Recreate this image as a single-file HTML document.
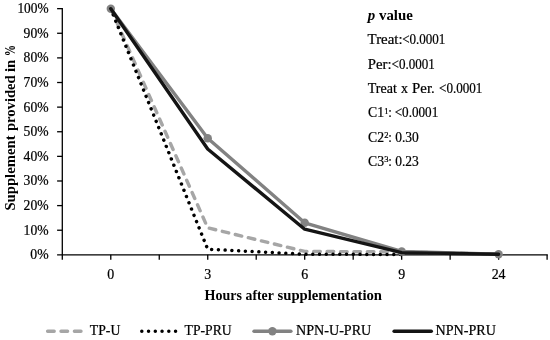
<!DOCTYPE html>
<html><head><meta charset="utf-8"><title>Chart</title>
<style>
html,body{margin:0;padding:0;background:#fff;}
body{width:550px;height:340px;overflow:hidden;}
svg{display:block;}
text{font-family:"Liberation Serif","DejaVu Serif",serif;font-size:13.9px;fill:#000;stroke:#000;stroke-width:0.22px;}
.b{font-weight:bold;font-size:14.8px;stroke:none;}
</style></head><body>
<svg width="550" height="340" viewBox="0 0 550 340">
<rect width="550" height="340" fill="#fff"/>

<g stroke="#000" stroke-width="1.3" fill="none">
<line x1="62.3" y1="8.0" x2="62.3" y2="259.75"/>
<line x1="57.099999999999994" y1="254.85" x2="547.75" y2="254.85"/>
<line x1="57.099999999999994" y1="230.23" x2="62.3" y2="230.23"/>
<line x1="57.099999999999994" y1="205.61" x2="62.3" y2="205.61"/>
<line x1="57.099999999999994" y1="180.99" x2="62.3" y2="180.99"/>
<line x1="57.099999999999994" y1="156.37" x2="62.3" y2="156.37"/>
<line x1="57.099999999999994" y1="131.75" x2="62.3" y2="131.75"/>
<line x1="57.099999999999994" y1="107.13" x2="62.3" y2="107.13"/>
<line x1="57.099999999999994" y1="82.51" x2="62.3" y2="82.51"/>
<line x1="57.099999999999994" y1="57.89" x2="62.3" y2="57.89"/>
<line x1="57.099999999999994" y1="33.27" x2="62.3" y2="33.27"/>
<line x1="57.099999999999994" y1="8.65" x2="62.3" y2="8.65"/>
<line x1="110.78" y1="254.85" x2="110.78" y2="259.75"/>
<line x1="159.26" y1="254.85" x2="159.26" y2="259.75"/>
<line x1="207.74" y1="254.85" x2="207.74" y2="259.75"/>
<line x1="256.22" y1="254.85" x2="256.22" y2="259.75"/>
<line x1="304.70" y1="254.85" x2="304.70" y2="259.75"/>
<line x1="353.18" y1="254.85" x2="353.18" y2="259.75"/>
<line x1="401.66" y1="254.85" x2="401.66" y2="259.75"/>
<line x1="450.14" y1="254.85" x2="450.14" y2="259.75"/>
<line x1="498.62" y1="254.85" x2="498.62" y2="259.75"/>
<line x1="547.10" y1="254.85" x2="547.10" y2="259.75"/>
</g>
<text x="48.6" y="259.3" text-anchor="end" textLength="18.3" lengthAdjust="spacingAndGlyphs">0%</text>
<text x="48.6" y="234.7" text-anchor="end" textLength="25.0" lengthAdjust="spacingAndGlyphs">10%</text>
<text x="48.6" y="210.1" text-anchor="end" textLength="25.0" lengthAdjust="spacingAndGlyphs">20%</text>
<text x="48.6" y="185.4" text-anchor="end" textLength="25.0" lengthAdjust="spacingAndGlyphs">30%</text>
<text x="48.6" y="160.8" text-anchor="end" textLength="25.0" lengthAdjust="spacingAndGlyphs">40%</text>
<text x="48.6" y="136.2" text-anchor="end" textLength="25.0" lengthAdjust="spacingAndGlyphs">50%</text>
<text x="48.6" y="111.6" text-anchor="end" textLength="25.0" lengthAdjust="spacingAndGlyphs">60%</text>
<text x="48.6" y="87.0" text-anchor="end" textLength="25.0" lengthAdjust="spacingAndGlyphs">70%</text>
<text x="48.6" y="62.3" text-anchor="end" textLength="25.0" lengthAdjust="spacingAndGlyphs">80%</text>
<text x="48.6" y="37.7" text-anchor="end" textLength="25.0" lengthAdjust="spacingAndGlyphs">90%</text>
<text x="48.6" y="13.1" text-anchor="end" textLength="31.2" lengthAdjust="spacingAndGlyphs">100%</text>
<text x="110.8" y="278.9" text-anchor="middle">0</text>
<text x="207.7" y="278.9" text-anchor="middle">3</text>
<text x="304.7" y="278.9" text-anchor="middle">6</text>
<text x="401.7" y="278.9" text-anchor="middle">9</text>
<text x="498.6" y="278.9" text-anchor="middle">24</text>
<polyline points="110.8,8.7 207.7,227.8 304.7,251.4 401.7,251.9 498.6,254.2" fill="none" stroke="#a6a6a6" stroke-width="3.4" stroke-linecap="round" stroke-linejoin="round" stroke-dasharray="6.6 6.8"/>
<polyline points="110.8,8.7 207.7,249.2 304.7,254.2 401.7,254.5" fill="none" stroke="#000" stroke-width="3.5" stroke-linecap="round" stroke-linejoin="round" stroke-dasharray="0.01 6.74"/>
<polyline points="110.8,8.7 207.7,138.2 304.7,222.8 401.7,251.5 498.6,254.2" fill="none" stroke="#828282" stroke-width="3.4" stroke-linecap="round" stroke-linejoin="round"/>
<circle cx="110.8" cy="8.7" r="4.2" fill="#828282"/>
<circle cx="207.7" cy="138.2" r="4.2" fill="#828282"/>
<circle cx="304.7" cy="222.8" r="4.2" fill="#828282"/>
<circle cx="401.7" cy="251.5" r="4.2" fill="#828282"/>
<circle cx="498.6" cy="254.2" r="4.2" fill="#828282"/>
<polyline points="110.8,8.7 207.7,149.0 304.7,229.2 401.7,252.6 498.6,254.2" fill="none" stroke="#141414" stroke-width="3.4" stroke-linecap="round" stroke-linejoin="round"/>
<text class="b" transform="translate(14.5 210.6) rotate(-90)"><tspan x="0" textLength="75.2" lengthAdjust="spacingAndGlyphs">Supplement</tspan> <tspan x="79.5" textLength="55.8" lengthAdjust="spacingAndGlyphs">provided</tspan> <tspan x="138.6" textLength="12.3" lengthAdjust="spacingAndGlyphs">in</tspan> <tspan x="154.4" textLength="11.2" lengthAdjust="spacingAndGlyphs">%</tspan></text>
<text class="b" y="300.1"><tspan x="204.5" textLength="37.4" lengthAdjust="spacingAndGlyphs">Hours</tspan> <tspan x="245.6" textLength="27.9" lengthAdjust="spacingAndGlyphs">after</tspan> <tspan x="277.5" textLength="104.5" lengthAdjust="spacingAndGlyphs">supplementation</tspan></text>
<text class="b" x="367.8" y="19.9" textLength="45" lengthAdjust="spacingAndGlyphs"><tspan font-style="italic">p</tspan> value</text>
<text y="44.4"><tspan x="367.6" textLength="35" lengthAdjust="spacingAndGlyphs">Treat:</tspan><tspan x="402.2" textLength="43.2" lengthAdjust="spacingAndGlyphs">&lt;0.0001</tspan></text>
<text y="68.75"><tspan x="367.8" textLength="23.8" lengthAdjust="spacingAndGlyphs">Per:</tspan><tspan x="391.6" textLength="43.2" lengthAdjust="spacingAndGlyphs">&lt;0.0001</tspan></text>
<text y="93.0"><tspan x="367.8" textLength="29" lengthAdjust="spacingAndGlyphs">Treat</tspan> <tspan x="400.9" textLength="7" lengthAdjust="spacingAndGlyphs">x</tspan> <tspan x="412.1" textLength="22.6" lengthAdjust="spacingAndGlyphs">Per.</tspan> <tspan x="439" textLength="43.4" lengthAdjust="spacingAndGlyphs">&lt;0.0001</tspan></text>
<text y="117.3"><tspan x="368.1" textLength="16" lengthAdjust="spacingAndGlyphs">C1</tspan><tspan x="384.3" dy="-3.5" font-size="8.5px">1</tspan><tspan x="388.2" dy="3.5" textLength="3.6" lengthAdjust="spacingAndGlyphs">:</tspan> <tspan x="394.7" textLength="43.6" lengthAdjust="spacingAndGlyphs">&lt;0.0001</tspan></text>
<text y="141.5"><tspan x="368.1" textLength="16" lengthAdjust="spacingAndGlyphs">C2</tspan><tspan x="384.3" dy="-3.5" font-size="8.5px">2</tspan><tspan x="388.2" dy="3.5" textLength="3.6" lengthAdjust="spacingAndGlyphs">:</tspan> <tspan x="395.2" textLength="23.6" lengthAdjust="spacingAndGlyphs">0.30</tspan></text>
<text y="165.8"><tspan x="368.1" textLength="16" lengthAdjust="spacingAndGlyphs">C3</tspan><tspan x="384.3" dy="-3.5" font-size="8.5px">3</tspan><tspan x="388.2" dy="3.5" textLength="3.6" lengthAdjust="spacingAndGlyphs">:</tspan> <tspan x="395.2" textLength="23.6" lengthAdjust="spacingAndGlyphs">0.23</tspan></text>
<line x1="47.6" y1="331.3" x2="82" y2="331.3" stroke="#a6a6a6" stroke-width="3.4" stroke-linecap="round" stroke-dasharray="6.6 6.8"/>
<line x1="141.8" y1="331.3" x2="176" y2="331.3" stroke="#000" stroke-width="3.5" stroke-linecap="round" stroke-dasharray="0.01 6.74"/>
<line x1="254" y1="331.3" x2="290.9" y2="331.3" stroke="#828282" stroke-width="3.4" stroke-linecap="round"/>
<circle cx="272.4" cy="331.3" r="4.2" fill="#828282"/>
<line x1="394.1" y1="331.3" x2="431.3" y2="331.3" stroke="#141414" stroke-width="3.4" stroke-linecap="round"/>
<text x="89.8" y="335.1" textLength="30.5" lengthAdjust="spacingAndGlyphs">TP-U</text>
<text x="184.6" y="335.1" textLength="47" lengthAdjust="spacingAndGlyphs">TP-PRU</text>
<text x="296.1" y="335.1" textLength="75.2" lengthAdjust="spacingAndGlyphs">NPN-U-PRU</text>
<text x="435.6" y="335.1" textLength="60.3" lengthAdjust="spacingAndGlyphs">NPN-PRU</text>
</svg></body></html>
